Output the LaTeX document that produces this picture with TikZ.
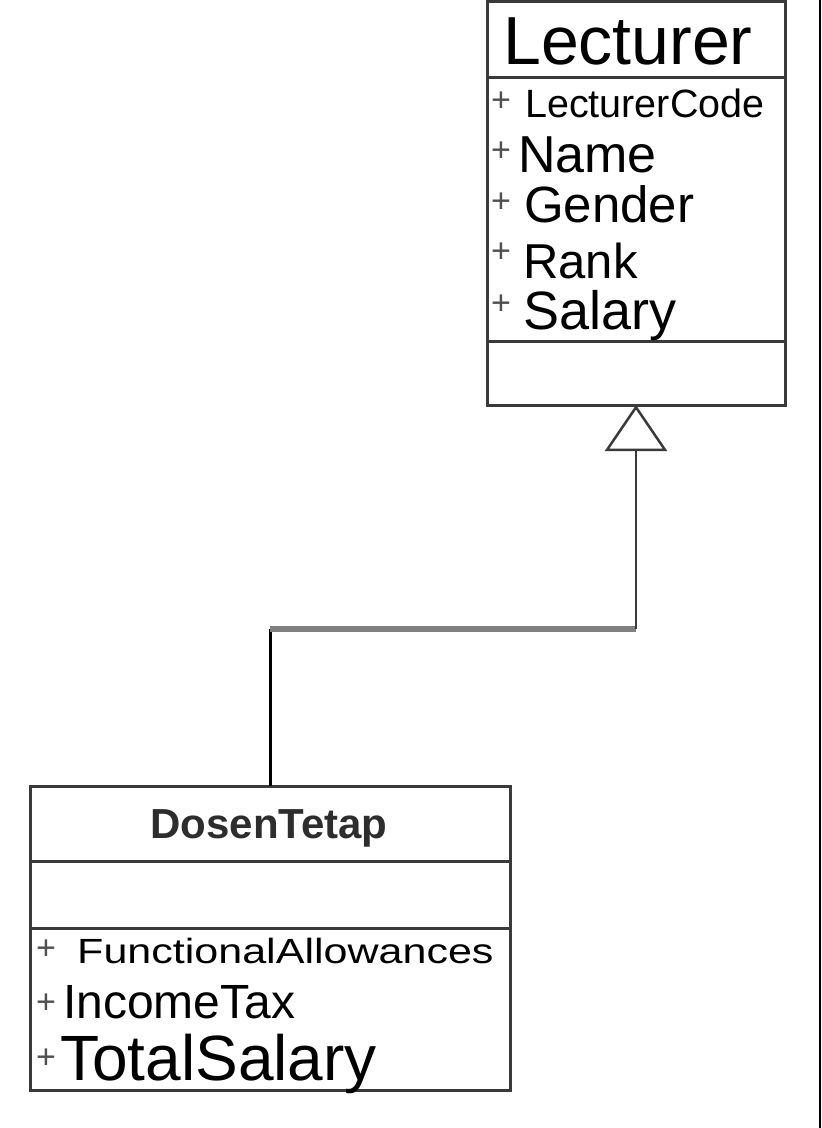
\documentclass[tikz,border=0pt]{standalone}
\usepackage{fontspec}
\setmainfont{Liberation Sans}
\usepackage{graphicx}
\usetikzlibrary{positioning,arrows.meta}

\definecolor{boxline}{RGB}{58,58,58}
\definecolor{plusgrey}{RGB}{80,80,80}
\definecolor{linkgrey}{RGB}{128,128,128}
\definecolor{titlegrey}{RGB}{45,45,45}

\newcommand{\fs}[1]{\fontsize{#1}{#1}\selectfont}

\begin{document}
\begin{tikzpicture}[x=1pt, y=-1pt,
	part/.style={rectangle, draw=boxline, line width=3pt, fill=white,
		inner sep=0pt, outer sep=0pt, anchor=north west},
	attr/.style={anchor=base west, inner sep=0pt, text=black},
	plus/.style={text=plusgrey, inner sep=0pt, font=\fs{34}},
	link/.style={draw=black, line width=3pt},
	linkwide/.style={draw=linkgrey, line width=6pt},
	node distance=0pt
	]
	\useasboundingbox (0,0) rectangle (822,1128);

	% Lecturer
	\node (lecTitle) [part, minimum width=298pt, minimum height=76pt] at (487,1) {};
	\node (lecAttr) [part, minimum width=298pt, minimum height=264pt, below=of lecTitle] {};
	\node (lecMeth) [part, minimum width=298pt, minimum height=64pt, below=of lecAttr] {};
	\node (lecName) [attr, font=\fs{68}] at (503,64) {Lecturer};
	\node (lecA1) [attr, font=\fs{39.5}] at (525,117) {LecturerCode};
	\node (lecA2) [attr, font=\fs{52}] at (518,172) {Name};
	\node (lecA3) [attr, font=\fs{51}] at (524,222) {Gender};
	\node (lecA4) [attr, font=\fs{49}] at (523,278) {Rank};
	\node (lecA5) [attr, font=\fs{54}] at (523,329) {Salary};
	\foreach \y [count=\i] in {102,152,203,253,305}
		\node (lecP\i) [plus] at (501,\y) {+};

	% DosenTetap
	\node (dosTitle) [part, minimum width=480pt, minimum height=75pt] at (30,786) {};
	\node (dosAttr) [part, minimum width=480pt, minimum height=67pt, below=of dosTitle] {};
	\node (dosMeth) [part, minimum width=480pt, minimum height=162pt, below=of dosAttr] {};
	\node (dosName) [anchor=base, inner sep=0pt, text=titlegrey, font=\fs{42}\bfseries] at (269,838) {DosenTetap};
	\node (dosM1) [attr, font=\fs{35}] at (77,963) {\scalebox{1.23}[1]{FunctionalAllowances}};
	\node (dosM2) [attr, font=\fs{48}] at (63,1018) {IncomeTax};
	\node (dosM3) [attr, font=\fs{64}] at (60,1080) {TotalSalary};
	\foreach \y [count=\i] in {950,1004,1059}
		\node (dosP\i) [plus] at (46,\y) {+};

	% generalisation
	\coordinate (bendL) at (dosTitle.north |- 0,629);
	\coordinate (bendR) at (lecMeth.south |- 0,629);
	\draw[link] (dosTitle.north) -- (bendL);
	\draw[linkwide] (bendL) -- (bendR);
	\draw[link, line width=2.5pt, -{Triangle[open, length=46pt, width=62pt, line width=2.5pt]}, draw=boxline]
		(bendR) -- (lecMeth.south);

	% page edge
	\draw[black, line width=2pt] (820,0) -- (820,1128);
\end{tikzpicture}
\end{document}
